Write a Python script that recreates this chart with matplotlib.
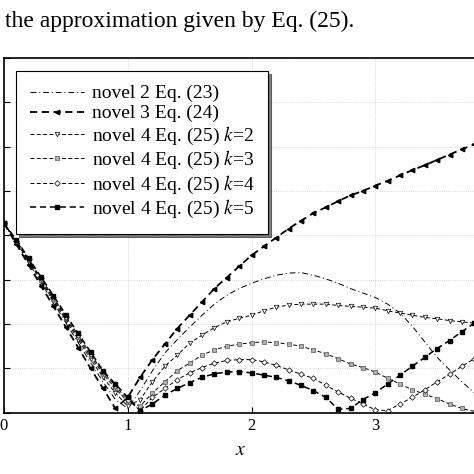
import numpy as np
import matplotlib.pyplot as plt

plt.rcParams['font.family'] = ['Liberation Serif', 'DejaVu Serif']
plt.rcParams['mathtext.fontset'] = 'stix'

x = np.round(np.arange(0, 3.85, 0.1), 1)

novel2 = [4.27, 3.83, 3.38, 2.93, 2.48, 2.03, 1.58, 1.13, 0.7, 0.3,
          0.1, 0.5, 0.95, 1.35, 1.65, 1.93, 2.2, 2.45, 2.65, 2.8,
          2.92, 3.02, 3.1, 3.15, 3.16, 3.1, 3.02, 2.92, 2.8, 2.7,
          2.6, 2.45, 2.25, 1.95, 1.6, 1.25, 0.97, 0.7, 0.45]
novel3 = [4.27, 3.8, 3.33, 2.86, 2.4, 1.93, 1.47, 1.0, 0.55, 0.1,
          0.35, 0.8, 1.2, 1.55, 1.9, 2.2, 2.5, 2.8, 3.05, 3.3,
          3.55, 3.75, 3.95, 4.15, 4.33, 4.5, 4.63, 4.77, 4.9, 5.0,
          5.12, 5.23, 5.35, 5.47, 5.58, 5.7, 5.82, 5.94, 6.05]
k2 = [4.27, 3.85, 3.41, 2.97, 2.53, 2.09, 1.65, 1.21, 0.8, 0.45,
      0.15, 0.3, 0.7, 1.05, 1.3, 1.57, 1.75, 1.92, 2.05, 2.13,
      2.2, 2.3, 2.38, 2.43, 2.45, 2.45, 2.45, 2.42, 2.4, 2.38,
      2.36, 2.3, 2.25, 2.2, 2.15, 2.12, 2.08, 2.05, 2.02]
k3 = [4.27, 3.87, 3.44, 3.0, 2.57, 2.13, 1.7, 1.27, 0.88, 0.55,
      0.25, 0.15, 0.45, 0.7, 0.95, 1.12, 1.3, 1.42, 1.5, 1.55,
      1.58, 1.6, 1.58, 1.55, 1.5, 1.42, 1.33, 1.22, 1.1, 1.02,
      0.92, 0.78, 0.65, 0.52, 0.42, 0.32, 0.2, 0.1, 0.03]
k4 = [4.27, 3.88, 3.46, 3.03, 2.6, 2.17, 1.75, 1.32, 0.93, 0.6,
      0.3, 0.05, 0.35, 0.55, 0.75, 0.9, 1.02, 1.12, 1.18, 1.2,
      1.2, 1.15, 1.07, 0.97, 0.87, 0.78, 0.62, 0.47, 0.33, 0.2,
      0.07, 0.05, 0.2, 0.35, 0.52, 0.7, 0.87, 1.05, 1.22]
k5 = [4.27, 3.9, 3.48, 3.06, 2.64, 2.21, 1.79, 1.37, 0.95, 0.65,
      0.35, 0.05, 0.2, 0.4, 0.55, 0.68, 0.8, 0.88, 0.92, 0.93,
      0.9, 0.85, 0.8, 0.72, 0.62, 0.5, 0.35, 0.08, 0.1, 0.3,
      0.45, 0.65, 0.85, 1.05, 1.25, 1.45, 1.63, 1.83, 2.02]

fig = plt.figure(figsize=(4.74, 4.74), dpi=100)
ax = fig.add_axes([0.0084, 0.129, 1.0, 0.749])

dash = (0, (4, 2.5))
ms = 3.2
ax.plot(x, novel2, color='black', lw=0.7, ls=(0, (6, 3, 1, 3)), label='novel 2 Eq. (23)')
ax.plot(x, novel3, color='black', lw=1.3, ls=dash, marker='<', ms=ms, mfc='black',
        label='novel 3 Eq. (24)')
ax.plot(x, k2, color='black', lw=0.7, ls=dash, marker='v', ms=ms, mfc='white', mew=0.5,
        label='novel 4 Eq. (25) $k$=2')
ax.plot(x, k3, color='black', lw=0.7, ls=dash, marker='s', ms=ms, mfc='#b0b0b0', mec='#555555',
        mew=0.5, label='novel 4 Eq. (25) $k$=3')
ax.plot(x, k4, color='black', lw=0.7, ls=dash, marker='D', ms=2.8, mfc='white', mew=0.5,
        label='novel 4 Eq. (25) $k$=4')
ax.plot(x, k5, color='black', lw=1.1, ls=dash, marker='s', ms=ms, mfc='black',
        label='novel 4 Eq. (25) $k$=5')

ax.set_xlim(0, 3.83)
ax.set_ylim(0, 8)
ax.set_xticks([0, 1, 2, 3])
ax.set_yticks(range(9))
ax.set_yticklabels([])
ax.tick_params(direction='in', labelsize=12, length=4)
ax.grid(True, color='#cccccc', lw=0.6, ls=':')
ax.set_xlabel('$x$', fontsize=14, labelpad=6)
for s in ax.spines.values():
    s.set_linewidth(1.2)

leg = ax.legend(loc='upper left', bbox_to_anchor=(0.005, 0.99), fontsize=14,
                frameon=True, fancybox=False, shadow={'color': 'black'},
                handlelength=2.8, handletextpad=0.4, labelspacing=0.12, borderpad=0.7)
leg.get_frame().set_edgecolor('black')
leg.get_frame().set_linewidth(0.8)

fig.text(0.01, 0.955, 'the approximation given by Eq. (25).', fontsize=17, va='center')

fig.savefig('out.png', dpi=100)
